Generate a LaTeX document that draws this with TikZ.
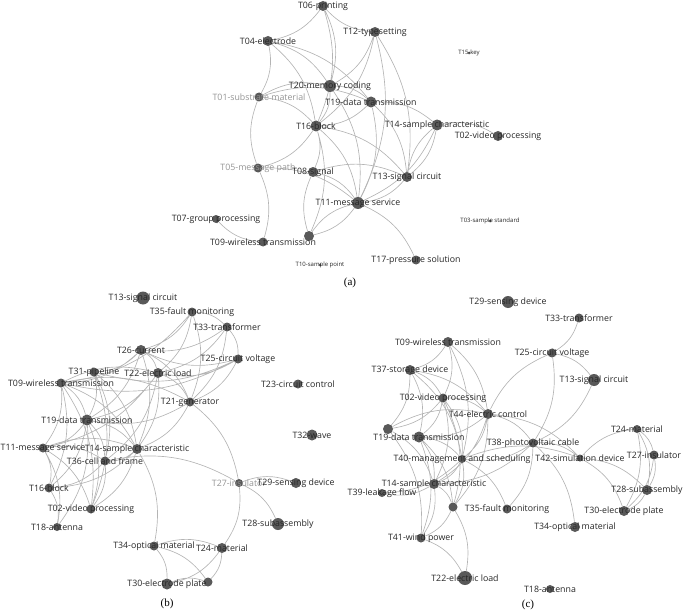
\documentclass[tikz,border=0pt]{standalone}
\usepackage{fontspec}
\setmainfont{Open Sans}
\newfontfamily\capfont{Liberation Serif}
\usetikzlibrary{backgrounds}
\definecolor{vertex}{HTML}{595959}
\definecolor{edgegray}{HTML}{B4B4B4}

\begin{document}
\begin{tikzpicture}[x=1pt, y=-1pt,
  vtx/.style={circle, fill=vertex, inner sep=0pt, minimum size=#1},
  vtx/.default=10pt,
  lbl/.style={font=\fontsize{8.8}{10}\selectfont, text=black!85, inner sep=0pt},
  dim/.style={lbl, text=black!42},
  smalltxt/.style={lbl, font=\fontsize{6}{7}\selectfont},
  link/.style={draw=edgegray, line width=0.65pt, bend left=20},
  caption/.style={font=\capfont\fontsize{11}{12}\selectfont}]
  \useasboundingbox (0,0) rectangle (685,615);

  % (a)
  \node[vtx=10pt, label={[lbl]center:T06-printing}] (a06) at (323,6) {};
  \node[vtx=10pt, label={[lbl]center:T12-typesetting}] (a12) at (375,32) {};
  \node[vtx=10pt, label={[lbl]center:T04-electrode}] (a04) at (268,41) {};
  \node[vtx=3pt, label={[smalltxt]center:T15-key}] (a15) at (469,53) {};
  \node[vtx=12pt, label={[lbl]center:T20-memory coding}] (a20) at (330,86) {};
  \node[vtx=9pt, label={[dim]center:T01-substrate material}] (a01) at (259,97) {};
  \node[vtx=11pt, label={[lbl]center:T19-data transmission}] (a19) at (371,102) {};
  \node[vtx=11pt, label={[lbl]center:T16-block}] (a16) at (316,126) {};
  \node[vtx=11pt, label={[lbl]center:T14-sample characteristic}] (a14) at (437,125) {};
  \node[vtx=10pt, label={[lbl]center:T02-video processing}] (a02) at (498,136) {};
  \node[vtx=9pt, label={[dim]center:T05-message path}] (a05) at (258,168) {};
  \node[vtx=10pt, label={[lbl]center:T08-signal}] (a08) at (313,172) {};
  \node[vtx=10pt, label={[lbl]center:T13-signal circuit}] (a13) at (407,177) {};
  \node[vtx=12pt, label={[lbl]center:T11-message service}] (a11) at (358,203) {};
  \node[vtx=8pt, label={[lbl]center:T07-group processing}] (a07) at (216,219) {};
  \node[vtx=3pt, label={[smalltxt]center:T03-sample standard}] (a03) at (490,221) {};
  \node[vtx=10pt] (au) at (309,236) {};
  \node[vtx=9pt, label={[lbl]center:T09-wireless transmission}] (a09) at (263,242) {};
  \node[vtx=9pt, label={[lbl]center:T17-pressure solution}] (a17) at (416,260) {};
  \node[vtx=3pt, label={[smalltxt]center:T10-sample point}] (a10) at (320,265) {};
  \node[caption] (capa) at (350,283) {(a)};

  % (b)
  \node[vtx=13pt, label={[lbl]center:T13-signal circuit}] (b13) at (143,298) {};
  \node[vtx=9pt, label={[lbl]center:T35-fault monitoring}] (b35) at (192,312) {};
  \node[vtx=9pt, label={[lbl]center:T33-transformer}] (b33) at (227,327) {};
  \node[vtx=10pt, label={[lbl]center:T26-current}] (b26) at (141,350) {};
  \node[vtx=9pt, label={[lbl]center:T25-circuit voltage}] (b25) at (238,359) {};
  \node[vtx=9pt, label={[lbl]center:T31-pipeline}] (b31) at (94,372) {};
  \node[vtx=10pt, label={[lbl]center:T22-electric load}] (b22) at (158,373) {};
  \node[vtx=9pt, label={[lbl]center:T09-wireless transmission}] (b09) at (61,383) {};
  \node[vtx=9pt, label={[lbl]center:T23-circuit control}] (b23) at (298,384) {};
  \node[vtx=9pt, label={[lbl]center:T21-generator}] (b21) at (190,402) {};
  \node[vtx=11pt, label={[lbl]center:T19-data transmission}] (b19) at (87,420) {};
  \node[vtx=11pt, label={[lbl]center:T32-wave}] (b32) at (312,435) {};
  \node[vtx=9pt, label={[lbl]center:T11-message service}] (b11) at (43,448) {};
  \node[vtx=10pt, label={[lbl]center:T14-sample characteristic}] (b14) at (137,449) {};
  \node[vtx=9pt, label={[lbl]center:T36-cell and frame}] (b36) at (105,461) {};
  \node[vtx=8pt, label={[dim]center:T27-insulator}] (b27) at (239,483) {};
  \node[vtx=10pt, label={[lbl]center:T29-sensing device}] (b29) at (296,483) {};
  \node[vtx=9pt, label={[lbl]center:T16-block}] (b16) at (49,488) {};
  \node[vtx=9pt, label={[lbl]center:T02-video processing}] (b02) at (91,509) {};
  \node[vtx=12pt, label={[lbl]center:T28-subassembly}] (b28) at (278,524) {};
  \node[vtx=8pt, label={[lbl]center:T18-antenna}] (b18) at (57,527) {};
  \node[vtx=9pt, label={[lbl]center:T34-optical material}] (b34) at (154,546) {};
  \node[vtx=10pt, label={[lbl]center:T24-material}] (b24) at (222,548) {};
  \node[vtx=9pt] (bu) at (208,582) {};
  \node[vtx=11pt, label={[lbl]center:T30-electrode plate}] (b30) at (167,584) {};
  \node[caption] (capb) at (167,604) {(b)};

  % (c)
  \node[vtx=12pt, label={[lbl]center:T29-sensing device}] (c29) at (508,302) {};
  \node[vtx=9pt, label={[lbl]center:T33-transformer}] (c33) at (579,318) {};
  \node[vtx=10pt, label={[lbl]center:T09-wireless transmission}] (c09) at (448,342) {};
  \node[vtx=9pt, label={[lbl]center:T25-circuit voltage}] (c25) at (552,353) {};
  \node[vtx=10pt, label={[lbl]center:T37-storage device}] (c37) at (410,370) {};
  \node[vtx=12pt, label={[lbl]center:T13-signal circuit}] (c13) at (594,380) {};
  \node[vtx=9pt, label={[lbl]center:T02-video processing}] (c02) at (443,398) {};
  \node[vtx=10pt, label={[lbl]center:T44-electric control}] (c44) at (488,414) {};
  \node[vtx=8pt, label={[lbl]center:T24-material}] (c24) at (637,429) {};
  \node[vtx=10pt] (cu1) at (388,429) {};
  \node[vtx=11pt, label={[lbl]center:T19-data transmission}] (c19) at (419,437) {};
  \node[vtx=9pt, label={[lbl]center:T38-photovoltaic cable}] (c38) at (533,443) {};
  \node[vtx=9pt, label={[lbl]center:T27-insulator}] (c27) at (654,455) {};
  \node[vtx=8pt, label={[lbl]center:T40-management and scheduling}] (c40) at (462,459) {};
  \node[vtx=7pt, label={[lbl]center:T42-simulation device}] (c42) at (580,458) {};
  \node[vtx=10pt, label={[lbl]center:T14-sample characteristic}] (c14) at (434,484) {};
  \node[vtx=10pt, label={[lbl]center:T28-subassembly}] (c28) at (647,490) {};
  \node[vtx=8pt, label={[lbl]center:T39-leakage flow}] (c39) at (382,493) {};
  \node[vtx=9pt] (cu2) at (453,507) {};
  \node[vtx=9pt, label={[lbl]center:T35-fault monitoring}] (c35) at (507,509) {};
  \node[vtx=10pt, label={[lbl]center:T30-electrode plate}] (c30) at (624,511) {};
  \node[vtx=10pt, label={[lbl]center:T34-optical material}] (c34) at (575,527) {};
  \node[vtx=9pt, label={[lbl]center:T41-wind power}] (c41) at (421,538) {};
  \node[vtx=14pt, label={[lbl]center:T22-electric load}] (c22) at (465,578) {};
  \node[vtx=8pt, label={[lbl]center:T18-antenna}] (c18) at (550,589) {};
  \node[caption] (capc) at (528,605) {(c)};

  \begin{scope}[on background layer]
    % links (a)
    \draw[link] (a06) to (a04) (a12) to (a06) (a06) to (a20) (a06) to (a16);
    \draw[link] (a04) to (a01) (a04) to (a20) (a04) to (a19) (a04) to (a16);
    \draw[link] (a12) to (a20) (a12) to (a16) (a12) to (a13) (a12) to (a11);
    \draw[link] (a01) to (a20) (a20) to (a19) (a20) to (a16) (a20) to (a11);
    \draw[link] (a01) to (a16) (a01) to (a19) (a05) to (a01);
    \draw[link] (a19) to (a16) (a19) to (a14) (a19) to (a13) (a19) to (a11);
    \draw[link] (a16) to (a05) (a16) to (a08) (a16) to (a11) (a16) to (a13) (a16) to (au);
    \draw[link] (a14) to (a02) (a14) to (a13) (a13) to (a14) (a14) to (a11);
    \draw[link] (a05) to (a11) (a05) to (a09) (a08) to (a13) (a08) to (a11) (au) to (a08);
    \draw[link] (a13) to (a11) (a11) to (au) (a11) to (a17) (au) to (a11) (a09) to (a07);
    % links (b)
    \draw[link] (b35) to (b26) (b35) to (b22) (b35) to (b33) (b35) to (b21) (b35) to (b09);
    \draw[link] (b33) to (b25) (b33) to (b21) (b33) to (b22) (b33) to (b26);
    \draw[link] (b25) to (b21) (b25) to (b22) (b25) to (b26) (b25) to (b09) (b25) to (b31);
    \draw[link] (b26) to (b31) (b26) to (b09) (b26) to (b22) (b26) to (b21) (b26) to (b19) (b26) to (b14);
    \draw[link] (b31) to (b19) (b31) to (b14) (b31) to (b36) (b31) to (b02);
    \draw[link] (b09) to (b19) (b09) to (b11) (b09) to (b16) (b09) to (b14) (b09) to (b22) (b09) to (b21) (b09) to (b02);
    \draw[link] (b22) to (b19) (b22) to (b14) (b22) to (b21) (b22) to (b36) (b22) to (b11);
    \draw[link] (b21) to (b14) (b21) to (b19) (b21) to (b27);
    \draw[link] (b19) to (b11) (b19) to (b14) (b19) to (b36) (b19) to (b16) (b19) to (b02) (b19) to (b18);
    \draw[link] (b11) to (b16) (b11) to (b18) (b11) to (b14) (b11) to (b36) (b11) to (b02);
    \draw[link] (b14) to (b36) (b14) to (b02) (b14) to (b16) (b14) to (b34);
    \draw[link] (b36) to (b02) (b36) to (b16) (b36) to (b27) (b16) to (b18);
    \draw[link] (b27) to (b29) (b27) to (b28) (b27) to (b24);
    \draw[link] (b34) to (b24) (b34) to (b30) (b34) to (bu) (b24) to (b30) (b24) to (bu) (b30) to (bu);
    % links (c)
    \draw[link] (c33) to (c25) (c25) to (c13) (c44) to (c25) (c25) to (c38) (c13) to (c38);
    \draw[link] (c09) to (c37) (c09) to (c02) (c09) to (c44) (c09) to (c40);
    \draw[link] (c37) to (c02) (c37) to (c19) (c37) to (cu1) (c37) to (c44) (c37) to (c40);
    \draw[link] (c02) to (c44) (c02) to (c19) (c02) to (cu1) (c02) to (c40) (c02) to (c14) (c02) to (cu2);
    \draw[link] (c44) to (c19) (c44) to (c40) (c44) to (c14) (c44) to (cu2) (c44) to (c42) (c44) to (c38);
    \draw[link] (c19) to (c40) (c19) to (c14) (c19) to (cu2) (c19) to (c41);
    \draw[link] (cu1) to (c14) (cu1) to (c41) (cu1) to (c44);
    \draw[link] (c38) to (c40) (c38) to (c42) (c38) to (c35) (c38) to (c34) (c38) to (c14);
    \draw[link] (c40) to (c14) (c40) to (cu2) (c40) to (c35) (c40) to (c39) (c40) to (c42);
    \draw[link] (c14) to (cu2) (c14) to (c39) (c14) to (c41) (cu2) to (c41) (cu2) to (c22) (c41) to (c22);
    \draw[link] (c42) to (c24) (c42) to (c30) (c42) to (c28);
    \draw[link] (c24) to (c27) (c24) to (c28) (c24) to (c30) (c27) to (c28) (c27) to (c30) (c28) to (c30);
  \end{scope}
\end{tikzpicture}
\end{document}
